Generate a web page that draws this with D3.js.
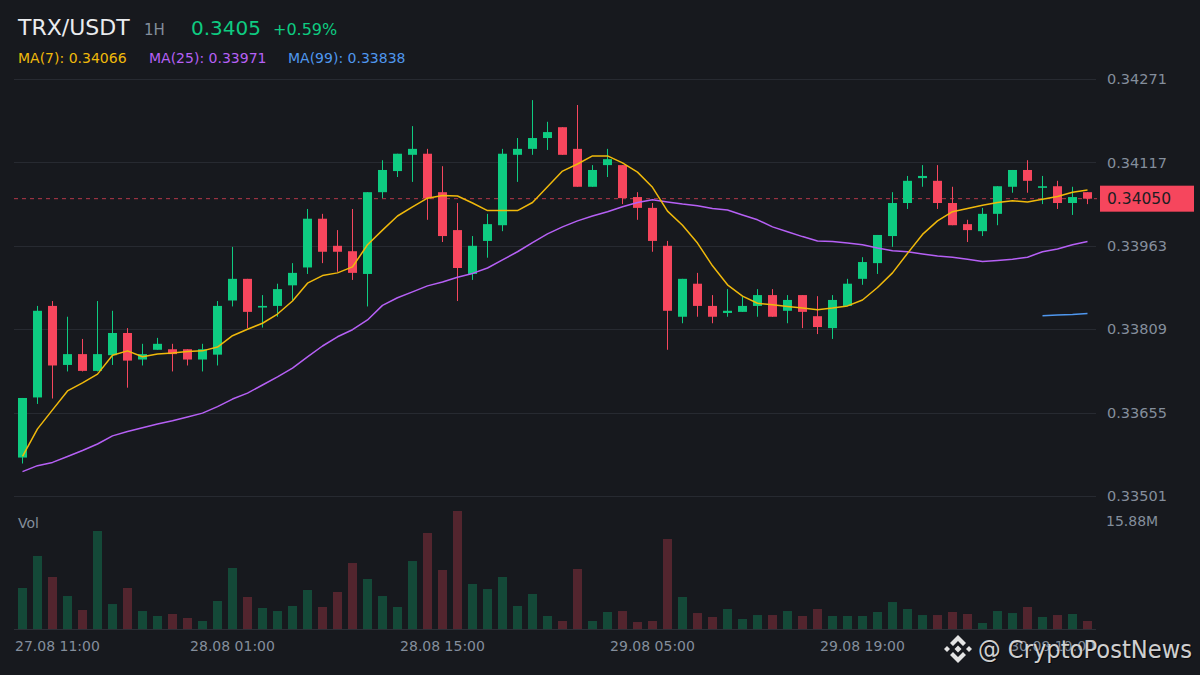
<!DOCTYPE html>
<html>
<head>
<meta charset="utf-8">
<script src="https://cdn.jsdelivr.net/npm/d3@7"></script>
<style>
    html, body { margin: 0; padding: 0; background: #17191e; }
    svg { display: block; font-family: "DejaVu Sans", sans-serif; }
</style>
</head>
<body>
<div id="chart"></div>
<script>
// TRX/USDT 1H candles, 27.08 11:00 onward
const openPx = [
    0.33572, 0.33683, 0.33852, 0.33743, 0.33763, 0.33732, 0.33761, 0.33802, 0.33753, 0.33771,
    0.33772, 0.33772, 0.33753, 0.33762, 0.33862, 0.33902, 0.33849, 0.33852, 0.33890, 0.33923,
    0.34013, 0.33963, 0.33953, 0.33911, 0.34062, 0.34101, 0.34131, 0.34133, 0.34062, 0.33992,
    0.33911, 0.33972, 0.34001, 0.34131, 0.34142, 0.34162, 0.34182, 0.34142, 0.34072, 0.34112,
    0.34112, 0.34053, 0.34033, 0.33963, 0.33832, 0.33893, 0.33852, 0.33839, 0.33841, 0.33852,
    0.33872, 0.33843, 0.33872, 0.33833, 0.33811, 0.33852, 0.33902, 0.33931, 0.33981, 0.34042,
    0.34088, 0.34083, 0.34042, 0.34003, 0.33990, 0.34022, 0.34072, 0.34103, 0.34070, 0.34073,
    0.34042, 0.34062];
const highPx = [
    0.33682, 0.33852, 0.33861, 0.33832, 0.33791, 0.33861, 0.33843, 0.33811, 0.33782, 0.33793,
    0.33782, 0.33772, 0.33782, 0.33861, 0.33961, 0.33902, 0.33872, 0.33893, 0.33931, 0.34031,
    0.34022, 0.33992, 0.34031, 0.34062, 0.34121, 0.34133, 0.34184, 0.34142, 0.34110, 0.34042,
    0.33981, 0.34022, 0.34142, 0.34162, 0.34232, 0.34192, 0.34182, 0.34223, 0.34112, 0.34142,
    0.34112, 0.34062, 0.34042, 0.33972, 0.33902, 0.33913, 0.33872, 0.33883, 0.33869, 0.33883,
    0.33883, 0.33872, 0.33872, 0.33870, 0.33872, 0.33902, 0.33942, 0.33983, 0.34062, 0.34092,
    0.34112, 0.34112, 0.34072, 0.34011, 0.34033, 0.34073, 0.34103, 0.34121, 0.34092, 0.34083,
    0.34072, 0.34062];
const lowPx = [
    0.33561, 0.33671, 0.33681, 0.33731, 0.33731, 0.33731, 0.33743, 0.33701, 0.33742, 0.33771,
    0.33731, 0.33742, 0.33731, 0.33742, 0.33851, 0.33811, 0.33812, 0.33832, 0.33863, 0.33911,
    0.33931, 0.33915, 0.33900, 0.33851, 0.34051, 0.34090, 0.34081, 0.34011, 0.33970, 0.33861,
    0.33900, 0.33941, 0.33990, 0.34081, 0.34131, 0.34140, 0.34131, 0.34072, 0.34072, 0.34090,
    0.34040, 0.34011, 0.33952, 0.33771, 0.33820, 0.33832, 0.33820, 0.33832, 0.33841, 0.33832,
    0.33832, 0.33820, 0.33811, 0.33800, 0.33791, 0.33852, 0.33891, 0.33911, 0.33961, 0.34031,
    0.34072, 0.34031, 0.34001, 0.33970, 0.33981, 0.34001, 0.34061, 0.34061, 0.34040, 0.34031,
    0.34020, 0.34040];
const closePx = [
    0.33682, 0.33843, 0.33742, 0.33763, 0.33732, 0.33763, 0.33802, 0.33751, 0.33763, 0.33782,
    0.33763, 0.33753, 0.33772, 0.33852, 0.33902, 0.33841, 0.33852, 0.33883, 0.33913, 0.34013,
    0.33952, 0.33952, 0.33913, 0.34062, 0.34103, 0.34133, 0.34142, 0.34051, 0.33981, 0.33922,
    0.33963, 0.34003, 0.34133, 0.34142, 0.34162, 0.34173, 0.34131, 0.34072, 0.34103, 0.34123,
    0.34051, 0.34033, 0.33972, 0.33843, 0.33902, 0.33852, 0.33832, 0.33843, 0.33852, 0.33872,
    0.33832, 0.33863, 0.33841, 0.33813, 0.33863, 0.33893, 0.33933, 0.33983, 0.34042, 0.34083,
    0.34092, 0.34042, 0.34001, 0.33992, 0.34022, 0.34073, 0.34103, 0.34083, 0.34073, 0.34042,
    0.34053, 0.34050];
// volume, millions
const volume = [
    5.52, 9.83, 7.00, 4.44, 2.56, 13.19, 3.36, 5.52, 2.42, 1.75,
    2.02, 1.48, 1.08, 3.77, 8.21, 4.31, 2.83, 2.42, 3.10, 5.25,
    2.96, 4.98, 8.88, 6.73, 4.44, 2.96, 9.15, 12.92, 7.94, 15.88,
    6.06, 5.38, 7.00, 3.10, 4.71, 1.75, 1.08, 8.08, 1.08, 2.29,
    2.42, 0.94, 1.08, 12.11, 4.31, 2.15, 1.62, 2.69, 1.35, 1.88,
    1.88, 2.42, 1.75, 2.69, 1.75, 1.75, 1.75, 2.29, 3.63, 2.69,
    1.88, 1.88, 2.29, 2.02, 0.81, 2.42, 2.15, 2.96, 1.62, 1.88,
    2.02, 1.08];
// moving averages as drawn
const ma7 = [
    0.33574, 0.33625, 0.33660, 0.33695, 0.33710, 0.33726, 0.33761, 0.33769, 0.33758, 0.33763,
    0.33765, 0.33768, 0.33769, 0.33776, 0.33797, 0.33809, 0.33820, 0.33837, 0.33861, 0.33894,
    0.33908, 0.33913, 0.33924, 0.33965, 0.33992, 0.34018, 0.34035, 0.34051, 0.34056, 0.34055,
    0.34042, 0.34028, 0.34028, 0.34028, 0.34043, 0.34072, 0.34101, 0.34114, 0.34129, 0.34129,
    0.34116, 0.34099, 0.34071, 0.34027, 0.34001, 0.33968, 0.33926, 0.33891, 0.33870, 0.33857,
    0.33854, 0.33851, 0.33848, 0.33845, 0.33848, 0.33852, 0.33863, 0.33886, 0.33913, 0.33949,
    0.33984, 0.34009, 0.34026, 0.34032, 0.34038, 0.34043, 0.34046, 0.34044, 0.34049, 0.34054,
    0.34062, 0.34066];
const ma25 = [
    0.33546, 0.33557, 0.33563, 0.33574, 0.33585, 0.33597, 0.33612, 0.33620, 0.33627, 0.33634,
    0.33640, 0.33647, 0.33654, 0.33666, 0.33680, 0.33691, 0.33706, 0.33721, 0.33737, 0.33758,
    0.33778, 0.33795, 0.33808, 0.33826, 0.33853, 0.33867, 0.33878, 0.33889, 0.33896, 0.33905,
    0.33912, 0.33922, 0.33937, 0.33952, 0.33969, 0.33985, 0.33998, 0.34009, 0.34018, 0.34026,
    0.34035, 0.34043, 0.34048, 0.34044, 0.34040, 0.34037, 0.34032, 0.34029, 0.34020, 0.34011,
    0.33998, 0.33989, 0.33980, 0.33972, 0.33971, 0.33968, 0.33965, 0.33959, 0.33954, 0.33952,
    0.33948, 0.33944, 0.33942, 0.33938, 0.33934, 0.33936, 0.33938, 0.33942, 0.33952, 0.33957,
    0.33965, 0.33971];
const ma99Tail = [0.33834, 0.33835, 0.33836, 0.33838]; // only the last 4 candles show it

const yTicks = [0.34271, 0.34117, 0.33963, 0.33809, 0.33655, 0.33501];
const xTickIdx = [0, 14, 28, 42, 56, 70];
const xTickLabels = ["27.08 11:00", "28.08 01:00", "28.08 15:00", "29.08 05:00", "29.08 19:00", "30.08 10:00"];
const lastPrice = 0.34050;
const volMaxLabel = "15.88M";

const W = 1200, H = 675;
const up = "#0ecb81", down = "#f6465d";
const labelsFill = "#848e9c";
const gridColor = "#272a31";
const maColors = { ma7: "#f0b90b", ma25: "#b660f5", ma99: "#4f97ee" };

const svg = d3.select("#chart").append("svg")
    .attr("width", W)
    .attr("height", H);

svg.append("rect").attr("width", W).attr("height", H).attr("fill", "#17191e");

const idx = d3.range(closePx.length);
const x = d3.scaleBand().domain(idx).range([15, 1095]).paddingInner(0.4).paddingOuter(0.2);
const cx = i => x(i) + x.bandwidth() / 2;
const y = d3.scaleLinear().domain([yTicks[yTicks.length - 1], yTicks[0]]).range([496, 79]);
const yv = d3.scaleLinear().domain([0, d3.max(volume)]).range([629, 511]);

//Grid lines
svg.append("g")
    .selectAll("line")
    .data(yTicks)
    .join("line")
    .attr("x1", 14).attr("x2", 1096)
    .attr("y1", d => Math.round(y(d)) + 0.5)
    .attr("y2", d => Math.round(y(d)) + 0.5)
    .attr("stroke", gridColor);

svg.append("line")
    .attr("x1", 14).attr("x2", 1096)
    .attr("y1", 629.5).attr("y2", 629.5)
    .attr("stroke", "#2c2f36");

//Price axis on the right
const yAxisG = svg.append("g")
    .attr("transform", "translate(1096,0)")
    .call(d3.axisRight(y).tickValues(yTicks).tickSize(0).tickPadding(11).tickFormat(d3.format(".5f")));
yAxisG.select(".domain").remove();
yAxisG.selectAll("text")
    .attr("fill", labelsFill)
    .style("font-size", "14.5px")
    .style("font-family", "DejaVu Sans, sans-serif");

//Volume bars
const isUp = i => closePx[i] >= openPx[i];
svg.append("g")
    .selectAll("rect")
    .data(idx)
    .join("rect")
    .attr("x", i => x(i))
    .attr("width", x.bandwidth())
    .attr("y", i => yv(volume[i]))
    .attr("height", i => yv(0) - yv(volume[i]))
    .attr("fill", i => isUp(i) ? up : down)
    .attr("fill-opacity", 0.27);

//Last price dashed line
svg.append("line")
    .attr("x1", 14).attr("x2", 1097)
    .attr("y1", y(lastPrice)).attr("y2", y(lastPrice))
    .attr("stroke", down)
    .attr("stroke-opacity", 0.7)
    .attr("stroke-dasharray", "4 4");

//Candles
const candles = svg.append("g")
    .selectAll("g")
    .data(idx)
    .join("g");

candles.append("line")
    .attr("x1", cx).attr("x2", cx)
    .attr("y1", i => y(highPx[i]))
    .attr("y2", i => y(lowPx[i]))
    .attr("stroke", i => isUp(i) ? up : down)
    .attr("stroke-width", 1);

candles.append("rect")
    .attr("x", i => x(i))
    .attr("width", x.bandwidth())
    .attr("y", i => Math.min(y(openPx[i]), y(closePx[i])))
    .attr("height", i => Math.max(1.5, Math.abs(y(openPx[i]) - y(closePx[i]))))
    .attr("fill", i => isUp(i) ? up : down);

//Moving averages
const maLine = d3.line()
    .defined(d => d[1] != null)
    .x(d => cx(d[0]))
    .y(d => y(d[1]));

const ma99 = idx.map(i => i >= idx.length - ma99Tail.length ? ma99Tail[i - (idx.length - ma99Tail.length)] : null);

[["ma25", ma25], ["ma7", ma7], ["ma99", ma99]].forEach(([key, series]) => {
    svg.append("path")
        .attr("d", maLine(series.map((v, i) => [i, v])))
        .attr("fill", "none")
        .attr("stroke", maColors[key])
        .attr("stroke-width", 1.5)
        .attr("stroke-linejoin", "round");
});

//Last price tag
svg.append("rect")
    .attr("x", 1100).attr("y", y(lastPrice) - 13)
    .attr("width", 94).attr("height", 26)
    .attr("fill", down);
svg.append("text")
    .attr("x", 1107).attr("y", y(lastPrice))
    .attr("dy", "0.36em")
    .attr("fill", "#1c1e23")
    .style("font-size", "15.5px")
    .text(d3.format(".5f")(lastPrice));

//Time labels, kept inside the plot
const xLabels = svg.append("g")
    .selectAll("text")
    .data(xTickIdx)
    .join("text")
    .attr("y", 651)
    .attr("fill", labelsFill)
    .style("font-size", "14px")
    .text((d, i) => xTickLabels[i]);
xLabels.each(function (d) {
    const w = this.getComputedTextLength();
    const left = Math.max(15, Math.min(1095 - w, cx(d) - w / 2));
    d3.select(this).attr("x", left);
});

//Header
const header = svg.append("text").attr("y", 35);
header.append("tspan").attr("x", 18).attr("fill", "#eaecef").style("font-size", "22px").text("TRX/USDT");
header.append("tspan").attr("x", 144).attr("fill", labelsFill).style("font-size", "15px").text("1H");
header.append("tspan").attr("x", 191).attr("fill", up).style("font-size", "20px").text("0.3405");
header.append("tspan").attr("x", 273).attr("fill", up).style("font-size", "16px").text("+0.59%");

const legend = [
    ["MA(7): 0.34066", maColors.ma7, 18],
    ["MA(25): 0.33971", maColors.ma25, 149],
    ["MA(99): 0.33838", maColors.ma99, 288]];
svg.append("g")
    .selectAll("text")
    .data(legend)
    .join("text")
    .attr("x", d => d[2])
    .attr("y", 63)
    .attr("fill", d => d[1])
    .style("font-size", "14px")
    .text(d => d[0]);

svg.append("text").attr("x", 18).attr("y", 528).attr("fill", labelsFill).style("font-size", "14px").text("Vol");
svg.append("text").attr("x", 1106).attr("y", 526).attr("fill", labelsFill).style("font-size", "14px").text(volMaxLabel);

//Watermark
const mark = svg.append("g").attr("transform", "translate(958,649)").attr("fill", "#e4e4e4");
mark.append("path").attr("d", "M0,-14 L8,-6 L5,-3 L0,-8 L-5,-3 L-8,-6 Z");
mark.append("path").attr("d", "M0,14 L8,6 L5,3 L0,8 L-5,3 L-8,6 Z");
mark.append("path").attr("d", "M0,-3.5 L3.5,0 L0,3.5 L-3.5,0 Z");
mark.append("path").attr("d", "M-11,-3 L-8,0 L-11,3 L-14,0 Z");
mark.append("path").attr("d", "M11,-3 L14,0 L11,3 L8,0 Z");

svg.append("text")
    .attr("x", 978).attr("y", 658)
    .attr("fill", "#000").attr("fill-opacity", 0.6)
    .attr("transform", "translate(1,1)")
    .attr("textLength", 214).attr("lengthAdjust", "spacingAndGlyphs")
    .style("font-size", "24px")
    .text("@ CryptoPostNews");
svg.append("text")
    .attr("x", 978).attr("y", 658)
    .attr("fill", "#e4e4e4").attr("fill-opacity", 0.92)
    .attr("textLength", 214).attr("lengthAdjust", "spacingAndGlyphs")
    .style("font-size", "24px")
    .text("@ CryptoPostNews");
</script>
</body>
</html>
